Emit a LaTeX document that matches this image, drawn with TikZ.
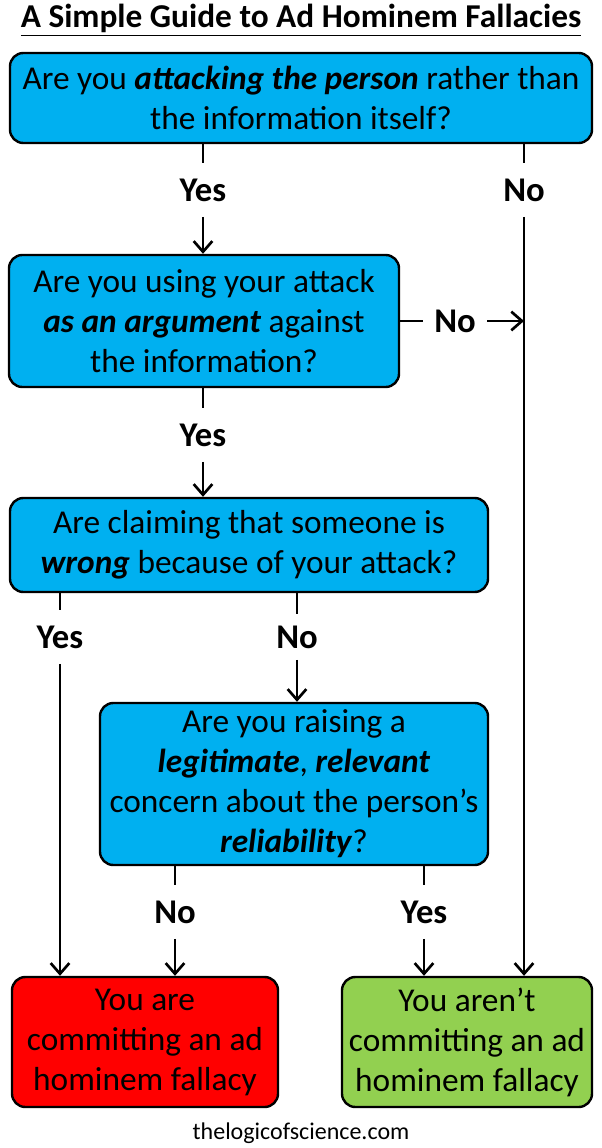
\documentclass[tikz,border=0pt]{standalone}
\usepackage{fontspec}
\setmainfont{Carlito}
\usetikzlibrary{arrows.meta,positioning}
\definecolor{qblue}{HTML}{00B0F0}
\definecolor{qred}{HTML}{FF0000}
\definecolor{qgreen}{HTML}{92D050}
\tikzset{
  box/.style={draw=black, line width=1.8pt, rounded corners=10pt, fill=qblue,
    align=center, inner sep=0pt, font=\fontsize{25}{30}\selectfont},
  lbl/.style={inner sep=0pt, minimum height=40pt, font=\fontsize{26}{28}\selectfont\bfseries},
  link/.style={line width=2pt},
  arr/.style={line width=2pt, -{Straight Barb[length=8pt,width=14pt,line width=2pt]}}
}
\begin{document}
\begin{tikzpicture}[x=0.75pt,y=-0.75pt]
  \useasboundingbox (0,0) rectangle (602,1148);

  % title
  \node (title) at (301,20) {\fontsize{25}{28}\selectfont\bfseries\underline{A Simple Guide to Ad Hominem Fallacies}};

  % questions
  \node[box, minimum width=582*0.75pt, minimum height=90*0.75pt] (q1) at (301,98)
    {Are you \textbf{\textit{attacking the person}} rather than\\the information itself?};
  \node[box, minimum width=390*0.75pt, minimum height=132*0.75pt] (q2) at (204,321)
    {Are you using your attack\\\textbf{\textit{as an argument}} against\\the information?};
  \node[box, minimum width=478*0.75pt, minimum height=94*0.75pt] (q3) at (249,545)
    {Are claiming that someone is\\\textbf{\textit{wrong}} because of your attack?};
  \node[box, minimum width=388*0.75pt, minimum height=162*0.75pt] (q4) at (294,784)
    {Are you raising a\\\textbf{\textit{legitimate}}, \textbf{\textit{relevant}}\\concern about the person's\\\textbf{\textit{reliability}}?};

  % answers
  \node[box, fill=qred, minimum width=266*0.75pt, minimum height=130*0.75pt] (bad) at (145,1042)
    {You are\\committing an ad\\hominem fallacy};
  \node[box, fill=qgreen, minimum width=250*0.75pt, minimum height=130*0.75pt] (good) at (467,1042)
    {You aren't\\committing an ad\\hominem fallacy};

  % footer
  \node (site) at (301,1133) {\fontsize{18}{20}\selectfont thelogicofscience.com};

  % labels
  \node[lbl] (y1) at (203,190) {Yes};
  \node[lbl] (n1) at (524,190) {No};
  \node[lbl, minimum width=64*0.75pt] (n2) at (455,321) {No};
  \node[lbl] (y2) at (203,435) {Yes};
  \node[lbl] (y3) at (60,637) {Yes};
  \node[lbl, minimum height=34pt] (n3) at (297,637) {No};
  \node[lbl] (n4) at (175,912) {No};
  \node[lbl] (y4) at (424,912) {Yes};

  % connectors
  \draw[link] (q1.south -| y1) -- (y1.north);
  \draw[arr] (y1.south) -- (q2.north -| y1);
  \draw[link] (q1.south -| n1) -- (n1.north);
  \draw[arr] (n1.south) -- (good.north -| n1);
  \draw[link] (q2.east |- n2) -- (n2.west);
  \draw[arr] (n2.east) -- (n2.east -| n1);
  \draw[link] (q2.south -| y2) -- (y2.north);
  \draw[arr] (y2.south) -- (q3.north -| y2);
  \draw[link] (q3.south -| y3) -- (y3.north);
  \draw[arr] (y3.south) -- (bad.north -| y3);
  \draw[link] (q3.south -| n3) -- (n3.north);
  \draw[arr] (n3.south) -- (q4.north -| n3);
  \draw[link] (q4.south -| n4) -- (n4.north);
  \draw[arr] (n4.south) -- (bad.north -| n4);
  \draw[link] (q4.south -| y4) -- (y4.north);
  \draw[arr] (y4.south) -- (good.north -| y4);
\end{tikzpicture}
\end{document}
